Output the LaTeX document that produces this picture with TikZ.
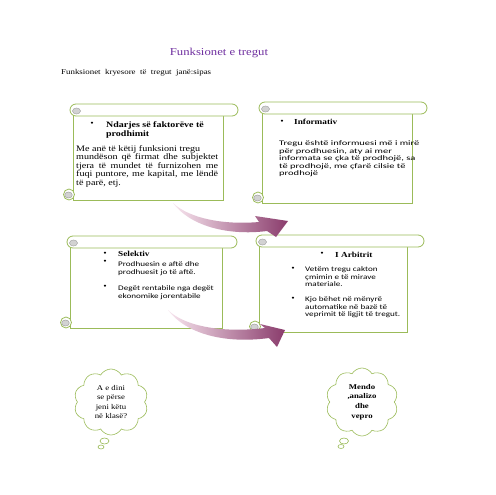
\documentclass[tikz,border=0pt]{standalone}
\usepackage{fontspec}
\setmainfont{Liberation Serif}[FakeStretch=1.2]
\newfontfamily\calib{Carlito}[FakeStretch=1.3]
\newfontfamily\calibw{Carlito}[FakeStretch=1.5]
\usetikzlibrary{shapes.symbols}
\definecolor{sgreen}{HTML}{9BBB59}
\definecolor{tpurple}{HTML}{7030A0}
\definecolor{arrowdark}{HTML}{8A3C6C}
\definecolor{arrowlight}{HTML}{F8E6EF}
\definecolor{curlgray}{HTML}{D2D2D2}
\tikzset{
  scrollline/.style={draw=sgreen,line width=0.8pt},
  curlstyle/.style={draw=gray!70,fill=curlgray,line width=0.5pt},
  serifbody/.style={inner sep=0pt,font=\fontsize{8.4}{8.5}\selectfont,align=justify,text width=142pt,anchor=north west},
  sansbody/.style={inner sep=0pt,font=\calib\fontsize{7}{6.6}\selectfont,align=left,anchor=north west},
  heading/.style={inner sep=0pt,font=\bfseries\fontsize{7.7}{8.8}\selectfont,align=left,anchor=north west},
  bul/.style={inner sep=0pt,font=\bfseries\fontsize{7}{7}\selectfont},
  cloudbox/.style={cloud,cloud puffs=10,cloud puff arc=120,draw=sgreen,line width=0.6pt,fill=white,inner sep=0pt},
  cloudtext/.style={inner sep=0pt,align=center,font=\fontsize{7.3}{9.6}\selectfont},
  swoosh/.style={left color=arrowlight,right color=arrowdark,shading angle=90}
}
\newcommand\myscroll[5]{%
  \draw[scrollline,fill=white] ({#1+3},{#2+6}) -- ({#1+3},#5) -- (#4,#5) -- (#4,{#2+6}) -- cycle;
  \draw[scrollline,fill=white] ({#1-1},{#5-5.5}) circle (5.5);
  \draw[curlstyle] ({#1-1.5},{#5-5}) ellipse (3.8 and 3);
  \draw[scrollline,fill=white,rounded corners=6pt] (#1,#2) rectangle (#3,{#2+12});
  \draw[curlstyle] ({#1+6.5},{#2+7}) ellipse (4 and 3);
}
\begin{document}
\begin{tikzpicture}[x=1pt,y=-1pt]
\useasboundingbox[fill=white] (0,0) rectangle (495,495);

% title
\node[inner sep=0pt,text=tpurple,font=\fontsize{10.6}{12}\selectfont,anchor=base] (title) at (219,55.5) {Funksionet e tregut};
\node[inner sep=0pt,font=\fontsize{7.4}{9}\selectfont,anchor=base west] (sub) at (61,74.5) {Funksionet\ \ kryesore\ \ të\ \ tregut\ \ janë:sipas};

% scrolls
\myscroll{70}{104}{238}{223}{200}
\myscroll{259}{102}{427}{412}{203}
\myscroll{67}{236}{237}{222}{328}
\myscroll{256}{235}{424}{407}{332}

% box 1
\node[bul] (b1) at (92,124) {•};
\node[heading,font=\bfseries\fontsize{8.3}{9}\selectfont] (h1) at (106,121) {Ndarjes së faktorëve të\\prodhimit};
\node[serifbody] (p1) at (76,145) {Me anë të këtij funksioni tregu\\ mundëson që firmat dhe subjektet\linebreak tjera të mundet të furnizohen me\linebreak fuqi puntore, me kapital, me lëndë\linebreak të parë, etj.};

% box 2
\node[bul] (b2) at (282,122) {•};
\node[heading] (h2) at (294,119.3) {Informativ};
\node[sansbody,font=\calibw\fontsize{7}{7.5}\selectfont] (p2) at (279,140.5) {Tregu është informuesi më i mirë\\për prodhuesin, aty ai mer\\informata se çka të prodhojë, sa\\të prodhojë, me çfarë cilsie të\\prodhojë};

% box 3
\node[bul] (b3a) at (105,254) {•};
\node[heading] (h3) at (118,251.3) {Selektiv};
\node[bul] (b3b) at (105,262) {•};
\node[sansbody,font=\calib\fontsize{7}{8}\selectfont] (p3a) at (118,261.5) {Prodhuesin e aftë dhe\\prodhuesit jo të aftë.};
\node[bul] (b3c) at (105,287) {•};
\node[sansbody,font=\calib\fontsize{7}{7.8}\selectfont] (p3b) at (118,285.3) {Degët rentabile nga degët\\ekonomike jorentabile};

% box 4
\node[bul] (b4a) at (322,254) {•};
\node[heading] (h4) at (335,251.5) {I Arbitrit};
\node[bul] (b4b) at (293,269) {•};
\node[sansbody,font=\calib\fontsize{7}{7.5}\selectfont] (p4a) at (305,266.5) {Vetëm tregu cakton\\çmimin e të mirave\\materiale.};
\node[bul] (b4c) at (293,299) {•};
\node[sansbody,font=\calib\fontsize{7}{7.5}\selectfont] (p4b) at (305,296.5) {Kjo bëhet në mënyrë\\automatike në bazë të\\veprimit të ligjit të tregut.};

% arrows
\shade[swoosh] (173,203) .. controls (190,219) and (225,225) .. (259,222) -- (255,216) -- (288,221) -- (276,237) -- (267,231) .. controls (228,236) and (190,226) .. cycle;
\shade[swoosh] (168,310) .. controls (185,327) and (225,333) .. (265,328) -- (260,324) -- (285,330) -- (277,347) -- (269,338) .. controls (225,344) and (186,334) .. cycle;

% clouds
\node[cloudbox,minimum width=74pt,minimum height=66pt] (c1) at (111,402) {};
\draw[draw=sgreen,line width=0.6pt,fill=white] (104.5,441) ellipse (4.5 and 3);
\draw[draw=sgreen,line width=0.6pt,fill=white] (101,447) ellipse (3 and 2);
\node[cloudtext] (t1) at (c1.center) {A e dini\\se përse\\jeni këtu\\në klasë?};

\node[cloudbox,minimum width=72pt,minimum height=68pt] (c2) at (362,402) {};
\draw[draw=sgreen,line width=0.6pt,fill=white] (344,441) ellipse (4.5 and 3);
\draw[draw=sgreen,line width=0.6pt,fill=white] (341,446.5) ellipse (3 and 2);
\node[cloudtext,font=\bfseries\fontsize{7.3}{9.8}\selectfont] (t2) at (c2.center) {Mendo\\,analizo\\dhe\\vepro};
\end{tikzpicture}
\end{document}
